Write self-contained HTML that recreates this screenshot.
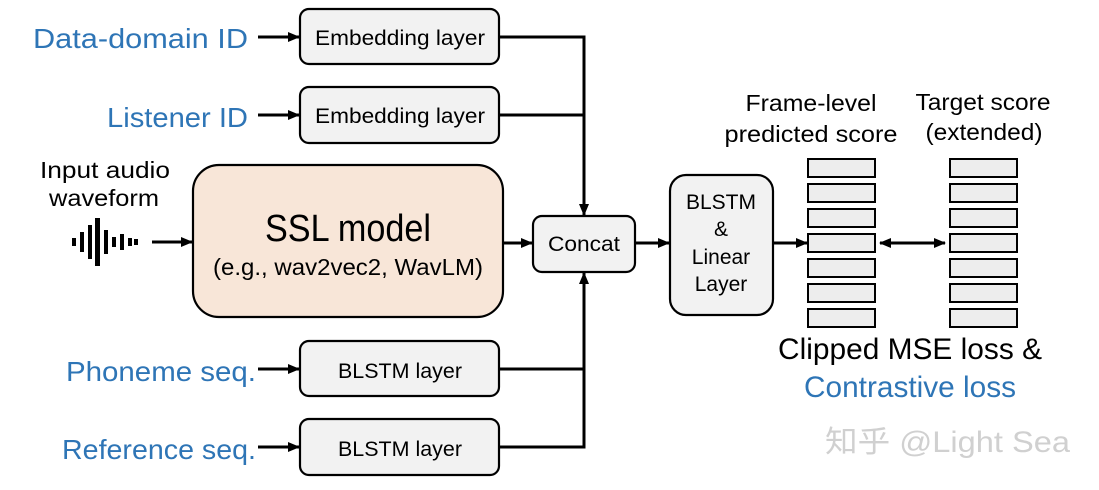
<!DOCTYPE html>
<html><head><meta charset="utf-8"><style>
html,body{margin:0;padding:0;background:#fff;width:1099px;height:490px;overflow:hidden}
text{font-family:"Liberation Sans","Noto Sans CJK SC",sans-serif}
</style></head><body>
<svg width="1099" height="490" viewBox="0 0 1099 490" xmlns="http://www.w3.org/2000/svg">
<defs>
<marker id="a" markerWidth="14" markerHeight="14" refX="11" refY="7" orient="auto" markerUnits="userSpaceOnUse"><path d="M0,2 L12,7 L0,12 z" fill="#000"/></marker>
<marker id="as" markerWidth="14" markerHeight="14" refX="1" refY="7" orient="auto" markerUnits="userSpaceOnUse"><path d="M12,2 L0,7 L12,12 z" fill="#000"/></marker>
</defs>
<g fill="#2e75b6" font-size="28">
<text x="33" y="48" textLength="215" lengthAdjust="spacingAndGlyphs">Data-domain ID</text>
<text x="107" y="127" textLength="141" lengthAdjust="spacingAndGlyphs">Listener ID</text>
<text x="66" y="381" textLength="190" lengthAdjust="spacingAndGlyphs">Phoneme seq.</text>
<text x="62" y="459" textLength="194" lengthAdjust="spacingAndGlyphs">Reference seq.</text>
</g>
<g stroke="#000" stroke-width="3" fill="none">
<line x1="258" y1="37" x2="299" y2="37" marker-end="url(#a)"/>
<line x1="258" y1="115" x2="299" y2="115" marker-end="url(#a)"/>
<line x1="258" y1="369" x2="299" y2="369" marker-end="url(#a)"/>
<line x1="258" y1="447" x2="299" y2="447" marker-end="url(#a)"/>
<polyline points="499,37 584,37 584,215" marker-end="url(#a)"/>
<line x1="499" y1="115" x2="584" y2="115"/>
<polyline points="499,447 584,447 584,273" marker-end="url(#a)"/>
<line x1="499" y1="369" x2="584" y2="369"/>
<line x1="152" y1="242" x2="192" y2="242" marker-end="url(#a)"/>
<line x1="503" y1="243" x2="532" y2="243" marker-end="url(#a)"/>
<line x1="635" y1="243" x2="669" y2="243" marker-end="url(#a)"/>
<line x1="773" y1="243" x2="807" y2="243" marker-end="url(#a)"/>
<line x1="880" y1="243" x2="945" y2="243" marker-end="url(#a)" marker-start="url(#as)"/>
</g>
<g stroke="#000" stroke-width="2.2" fill="#f2f2f2">
<rect x="300" y="9" width="199" height="55" rx="9"/>
<rect x="300" y="87" width="199" height="56" rx="9"/>
<rect x="300" y="341" width="199" height="55" rx="9"/>
<rect x="300" y="419" width="199" height="56" rx="9"/>
<rect x="193" y="165" width="310" height="152" rx="26" fill="#f8e6d8"/>
<rect x="533" y="216" width="102" height="56" rx="9"/>
<rect x="670" y="175" width="103" height="140" rx="16"/>
</g>
<g font-size="21" fill="#000" text-anchor="middle">
<text x="400" y="45" textLength="170" lengthAdjust="spacingAndGlyphs">Embedding layer</text>
<text x="400" y="123" textLength="170" lengthAdjust="spacingAndGlyphs">Embedding layer</text>
<text x="400" y="378" textLength="124" lengthAdjust="spacingAndGlyphs">BLSTM layer</text>
<text x="400" y="456" textLength="124" lengthAdjust="spacingAndGlyphs">BLSTM layer</text>
<text x="584" y="251" textLength="72" lengthAdjust="spacingAndGlyphs">Concat</text>
<text x="721" y="209">BLSTM</text>
<text x="721" y="236">&amp;</text>
<text x="721" y="264">Linear</text>
<text x="721" y="291">Layer</text>
</g>
<text x="348" y="241" font-size="38" text-anchor="middle" textLength="166" lengthAdjust="spacingAndGlyphs">SSL model</text>
<text x="348" y="275" font-size="23" text-anchor="middle" textLength="270" lengthAdjust="spacingAndGlyphs">(e.g., wav2vec2, WavLM)</text>
<g font-size="23" text-anchor="middle">
<text x="105" y="178" textLength="130" lengthAdjust="spacingAndGlyphs">Input audio</text>
<text x="104" y="206" textLength="110" lengthAdjust="spacingAndGlyphs">waveform</text>
<text x="811" y="111" textLength="131" lengthAdjust="spacingAndGlyphs">Frame-level</text>
<text x="811" y="142" textLength="173" lengthAdjust="spacingAndGlyphs">predicted score</text>
<text x="983" y="110" textLength="135" lengthAdjust="spacingAndGlyphs">Target score</text>
<text x="984" y="140" textLength="117" lengthAdjust="spacingAndGlyphs">(extended)</text>
</g>
<g fill="#000">
<rect x="72" y="238" width="4" height="8"/>
<rect x="80" y="232" width="4" height="20"/>
<rect x="88" y="225" width="4" height="34"/>
<rect x="95" y="218" width="5" height="48"/>
<rect x="104" y="230" width="4" height="24"/>
<rect x="112" y="237" width="4" height="10"/>
<rect x="120" y="234" width="4" height="16"/>
<rect x="128" y="238" width="4" height="8"/>
<rect x="134" y="239" width="4" height="6"/>
</g>
<g stroke="#000" stroke-width="2" fill="#ededed">
<rect x="808" y="159" width="67" height="18"/><rect x="808" y="184" width="67" height="18"/><rect x="808" y="209" width="67" height="18"/><rect x="808" y="234" width="67" height="18"/><rect x="808" y="259" width="67" height="18"/><rect x="808" y="284" width="67" height="18"/><rect x="808" y="309" width="67" height="18"/>
<rect x="950" y="159" width="67" height="18"/><rect x="950" y="184" width="67" height="18"/><rect x="950" y="209" width="67" height="18"/><rect x="950" y="234" width="67" height="18"/><rect x="950" y="259" width="67" height="18"/><rect x="950" y="284" width="67" height="18"/><rect x="950" y="309" width="67" height="18"/>
</g>
<text x="910" y="359" font-size="30" text-anchor="middle" textLength="264" lengthAdjust="spacingAndGlyphs">Clipped MSE loss &amp;</text>
<text x="910" y="397" font-size="30" text-anchor="middle" fill="#2e75b6" textLength="212" lengthAdjust="spacingAndGlyphs">Contrastive loss</text>
<text x="825" y="452" font-size="30" fill="#d0d0d0" textLength="245" lengthAdjust="spacingAndGlyphs">知乎 @Light Sea</text>
</svg>
</body></html>
